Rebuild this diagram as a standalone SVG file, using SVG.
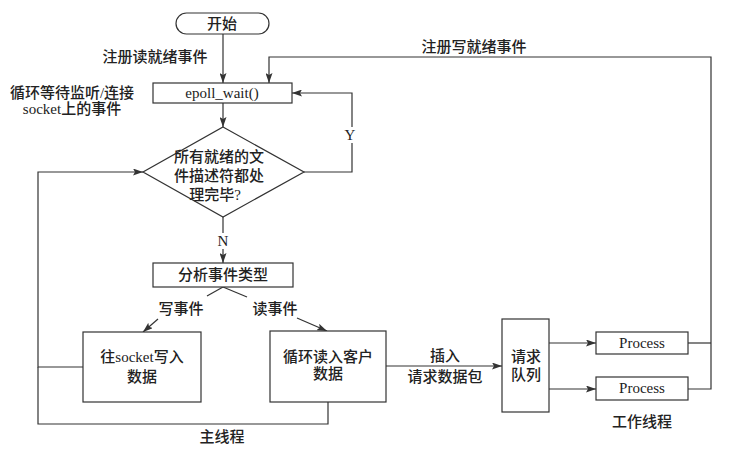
<svg xmlns="http://www.w3.org/2000/svg" width="735" height="457" viewBox="0 0 735 457">
<style>
.s{fill:#fff;stroke:#333;stroke-width:1.2}
.c{fill:none;stroke:#333;stroke-width:1.2}
text{font-family:"Liberation Serif","Noto Sans CJK SC",serif;font-size:15px;font-weight:500;fill:#222;text-anchor:middle;dominant-baseline:central}
</style>
<defs>
<marker id="a" markerUnits="userSpaceOnUse" markerWidth="11" markerHeight="7" refX="10" refY="3.5" orient="auto">
<path d="M0,0 L10,3.5 L0,7 L2,3.5 z" fill="#333"/>
</marker>
</defs>
<rect width="735" height="457" fill="#fff"/>
<g id="connectors">
<path class="c" d="M223,34 V83" marker-end="url(#a)"/>
<path class="c" d="M223,103 V127" marker-end="url(#a)"/>
<path class="c" d="M223,217 V233"/>
<path class="c" d="M223,249 V263" marker-end="url(#a)"/>
<path class="c" d="M304,172 H352 V143"/>
<path class="c" d="M352,127 V93 H292" marker-end="url(#a)"/>
<path class="c" d="M688,343 H711"/>
<path class="c" d="M688,389 H711 V57 H269 V83" marker-end="url(#a)"/>
<path class="c" d="M83,367 H38 V172 H143" marker-end="url(#a)"/>
<path class="c" d="M328,402 V424 H38 V367"/>
<path class="c" d="M223,287 L207,296"/>
<path class="c" d="M158,319 L143,332" marker-end="url(#a)"/>
<path class="c" d="M223,287 L247,297"/>
<path class="c" d="M297,318 L327,331" marker-end="url(#a)"/>
<path class="c" d="M386,366 H502" marker-end="url(#a)"/>
<path class="c" d="M549,343 H596" marker-end="url(#a)"/>
<path class="c" d="M549,389 H596" marker-end="url(#a)"/>
<text x="350" y="135">Y</text>
<text x="223" y="241">N</text>
<text x="181" y="309">写事件</text>
<text x="275" y="309">读事件</text>
<text x="445" y="356">插入</text>
<text x="445" y="377">请求数据包</text>
<text x="155" y="57">注册读就绪事件</text>
<text x="474" y="47">注册写就绪事件</text>
</g>
<g id="start"><rect class="s" x="176" y="13" width="93" height="21" rx="10.5"/><text x="222" y="24">开始</text></g>
<g id="epoll"><rect class="s" x="153" y="83" width="139" height="20"/><text x="222" y="93">epoll_wait()</text></g>
<g id="loop-note"><text x="72" y="93">循环等待监听/连接</text><text x="72" y="109">socket上的事件</text></g>
<g id="decision"><polygon class="s" points="223,127 304,172 223,217 143,172"/><text x="219" y="157">所有就绪的文</text><text x="219" y="176">件描述符都处</text><text x="215" y="195">理完毕?</text></g>
<g id="analyze"><rect class="s" x="153" y="263" width="140" height="24"/><text x="223" y="275">分析事件类型</text></g>
<g id="write"><rect class="s" x="83" y="332" width="118" height="70"/><text x="142" y="357">往socket写入</text><text x="142" y="377">数据</text></g>
<g id="read"><rect class="s" x="270" y="331" width="116" height="71"/><text x="328" y="357">循环读入客户</text><text x="328" y="374">数据</text></g>
<g id="queue"><rect class="s" x="502" y="319" width="47" height="93"/><text x="526" y="357">请求</text><text x="526" y="375">队列</text></g>
<g id="process1"><rect class="s" x="596" y="332" width="92" height="22"/><text x="642" y="343">Process</text></g>
<g id="process2"><rect class="s" x="596" y="377" width="92" height="23"/><text x="642" y="388">Process</text></g>
<g id="main-label"><text x="222" y="437">主线程</text></g>
<g id="worker-label"><text x="642" y="422">工作线程</text></g>
</svg>
